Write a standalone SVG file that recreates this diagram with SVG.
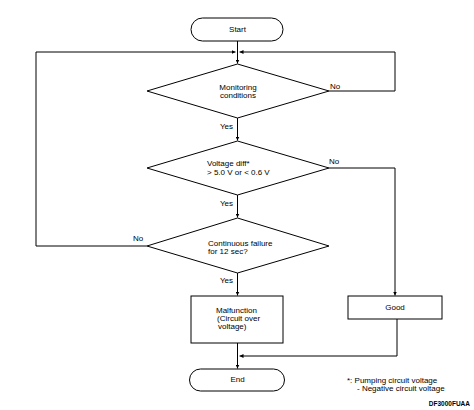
<svg xmlns="http://www.w3.org/2000/svg" width="474" height="410" viewBox="0 0 474 410">
<defs>
<marker id="ah" viewBox="0 0 6 6" refX="6" refY="3" markerWidth="4" markerHeight="4" orient="auto" markerUnits="userSpaceOnUse">
<path d="M0,0 L6,3 L0,6 Z" fill="#000"/>
</marker>
<style>
.s{fill:#fff;stroke:#000;stroke-width:1}
.c{fill:none;stroke:#000;stroke-width:1}
text{font-family:"Liberation Sans",Arial,sans-serif;font-size:8px;fill:#000}
.m{text-anchor:middle}
</style>
</defs>
<rect width="474" height="410" fill="#fff"/>
<g id="connectors">
<path class="c" d="M237.5,41 V63.5" marker-end="url(#ah)"/>
<path class="c" d="M36,52 H235.5" marker-end="url(#ah)"/>
<path class="c" d="M329,91 H395 V52 H239.5" marker-end="url(#ah)"/>
<path class="c" d="M237.5,118 V140.5" marker-end="url(#ah)"/>
<path class="c" d="M329,168 H395 V295.5" marker-end="url(#ah)"/>
<path class="c" d="M237.5,195 V217.5" marker-end="url(#ah)"/>
<path class="c" d="M147,246 H36 V52"/>
<path class="c" d="M237.5,273 V295.5" marker-end="url(#ah)"/>
<path class="c" d="M237.5,343 V368.5" marker-end="url(#ah)"/>
<path class="c" d="M397,319 V356 H239.5" marker-end="url(#ah)"/>
<text x="330" y="89">No</text>
<text x="220" y="129">Yes</text>
<text x="329" y="164">No</text>
<text x="220" y="206">Yes</text>
<text x="133" y="241">No</text>
<text x="220" y="283">Yes</text>
</g>
<g id="start">
<rect class="s" x="191" y="18" width="92" height="23" rx="11.5"/>
<text class="m" x="237.5" y="32">Start</text>
</g>
<g id="monitoring">
<path class="s" d="M237.5,64 L329,91 L237.5,118 L147,91 Z"/>
<text class="m" x="238" y="90">Monitoring</text>
<text class="m" x="238" y="98">conditions</text>
</g>
<g id="voltage">
<path class="s" d="M237.5,141 L329,168 L237.5,195 L147,168 Z"/>
<text x="207" y="166">Voltage diff*</text>
<text x="207" y="175">&gt; 5.0 V or &lt; 0.6 V</text>
</g>
<g id="continuous">
<path class="s" d="M237.5,218 L329,246 L237.5,273 L147,246 Z"/>
<text x="208" y="246">Continuous failure</text>
<text x="208" y="254">for 12 sec?</text>
</g>
<g id="malfunction">
<rect class="s" x="191" y="296" width="92" height="47"/>
<text x="216" y="313">Malfunction</text>
<text x="217" y="321">(Circuit over</text>
<text x="218" y="329">voltage)</text>
</g>
<g id="good">
<rect class="s" x="348" y="296" width="94" height="23"/>
<text class="m" x="395" y="310">Good</text>
</g>
<g id="end">
<rect class="s" x="189.5" y="369" width="95" height="22" rx="11"/>
<text class="m" x="237.5" y="382">End</text>
</g>
<g id="notes">
<text x="347" y="383">*: Pumping circuit voltage</text>
<text x="357" y="391">- Negative circuit voltage</text>
<text x="470" y="406" text-anchor="end" style="font-size:6.5px;font-weight:bold">DF3000FUAA</text>
</g>
</svg>
